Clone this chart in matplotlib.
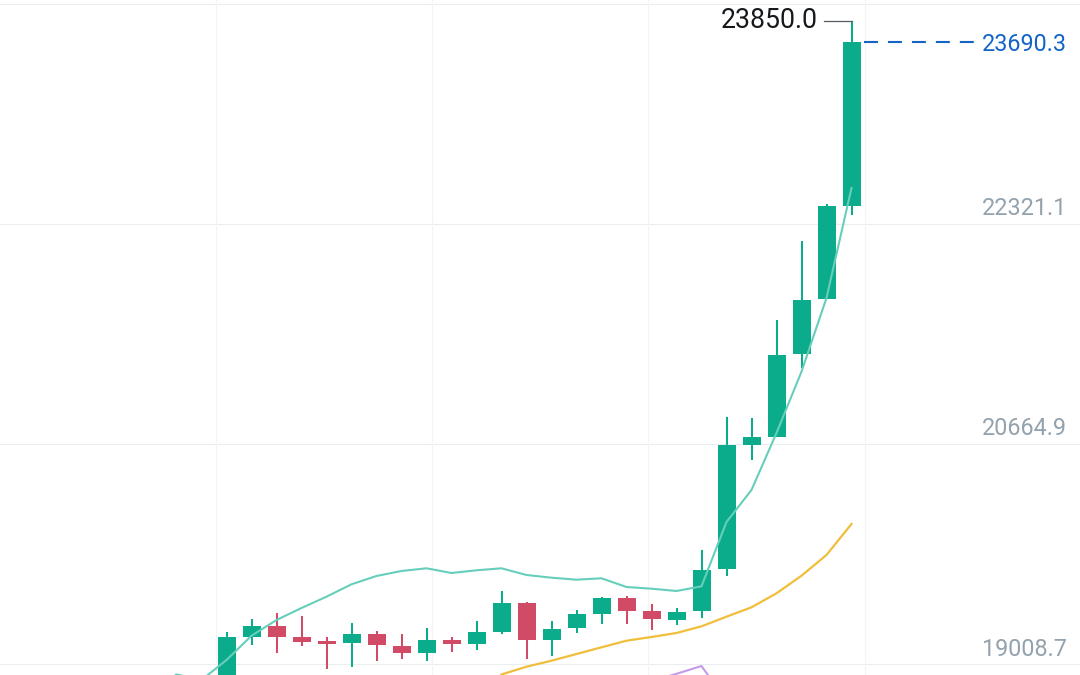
import matplotlib
matplotlib.use("Agg")
import matplotlib.pyplot as plt
from matplotlib.transforms import blended_transform_factory, offset_copy

# candles, one list per field (bar index 0..25)
opens = [18750.0, 19212.0, 19294.8, 19209.7, 19181.8, 19166.8, 19236.8, 19144.2, 19093.8, 19187.1,
         19159.3, 19247.3, 19465.7, 19187.1, 19277.5, 19387.4, 19507.8, 19407.7, 19339.9, 19405.4,
         19723.9, 20659.6, 20719.9, 21340.2, 21756.5, 22458.9]
closes = [19209.7, 19294.8, 19212.0, 19176.6, 19159.3, 19236.8, 19149.5, 19091.5, 19187.1, 19159.3,
          19247.3, 19465.7, 19187.1, 19274.4, 19385.1, 19507.8, 19410.0, 19345.2, 19402.4, 19718.6,
          20657.4, 20717.6, 21334.9, 21751.2, 22456.6, 23690.3]
highs = [19251.9, 19349.7, 19394.9, 19370.1, 19209.7, 19319.6, 19259.4, 19234.5, 19277.5, 19209.7,
         19330.2, 19558.3, 19475.4, 19332.4, 19417.5, 19515.3, 19518.4, 19458.1, 19430.3, 19864.7,
         20870.4, 20860.6, 21596.1, 22193.1, 22471.7, 23850.0]
lows = [18700.0, 19154.0, 19091.5, 19144.2, 18973.3, 18983.9, 19029.0, 19048.6, 19029.0, 19096.8,
        19116.4, 19232.3, 19048.6, 19068.9, 19244.3, 19312.1, 19312.1, 19264.7, 19304.6, 19352.7,
        19671.2, 20546.7, 20719.9, 21237.0, 21756.5, 22388.9]

# moving averages
ma_fast_x = list(range(-3, 26))
ma_fast = [18800.0, 18930.0, 18888.0, 19038.8, 19221.7, 19339.9, 19430.3, 19515.3, 19608.7, 19671.2,
           19708.8, 19729.1, 19693.7, 19714.1, 19729.1, 19678.7, 19658.4, 19643.3, 19653.9, 19588.4,
           19575.6, 19558.3, 19593.6, 20077.7, 20318.6, 20747.7, 21209.2, 21764.0, 22592.1]
ma_mid_x = list(range(11, 26))
ma_mid = [18929.7, 18988.4, 19033.5, 19084.0, 19134.4, 19184.1, 19212.0, 19242.1, 19292.5, 19364.8,
          19435.6, 19540.9, 19673.4, 19829.3, 20062.7]
ma_slow_x = [17, 18, 19, 20]
ma_slow = [18880.7, 18934.9, 18993.7, 18730.0]

price_ticks = [22321.1, 20664.9, 19008.7]
top_grid = 23977.3
time_grid = [-0.42, 8.22, 16.86, 25.54]
high_price = 23850.0
last_price = 23690.3

GREEN = "#0BAC8B"
RED = "#D14B66"

plt.rcParams["font.family"] = ["Roboto", "DejaVu Sans"]

fig = plt.figure(figsize=(10.8, 6.75), dpi=100)
ax = fig.add_axes([0, 0, 1, 1])
ax.set_xlim(-9.06, 34.14)
ax.set_ylim(18925.9, 24007.0)
ax.axis("off")

# grid
for p in price_ticks + [top_grid]:
    ax.axhline(p, color="#ECEDEF", lw=0.8, zorder=1)
for t in time_grid:
    ax.axvline(t, color="#F3F4F6", lw=0.8, zorder=1)

# candles
for i in range(len(opens)):
    col = GREEN if closes[i] >= opens[i] else RED
    ax.vlines(i, lows[i], highs[i], color=col, lw=1.45, zorder=2)
    ax.bar(i, abs(closes[i] - opens[i]), bottom=min(opens[i], closes[i]), width=0.72,
           color=col, linewidth=0, zorder=3)

# moving averages
ax.plot(ma_fast_x, ma_fast, color="#66CEBB", lw=1.5, zorder=4)
ax.plot(ma_mid_x, ma_mid, color="#F0BE3A", lw=1.6, zorder=4)
ax.plot(ma_slow_x, ma_slow, color="#C49BEA", lw=1.5, zorder=4)

# price labels on the right, they sit just above their grid line
trans = blended_transform_factory(ax.transAxes, ax.transData)
label_x = 1067 / 1080
above = offset_copy(trans, fig=fig, y=10.8, units="points")
for p in price_ticks:
    ax.text(label_x, p, f"{p:.1f}", transform=above, ha="right", va="center",
            fontsize=16.8, color="#93A2AD", zorder=5)

# last price marker
ax.plot([25.5, 29.95], [last_price, last_price], color="#1464C8", lw=1.5,
        dashes=(6.7, 4.8), zorder=4)
nudge = offset_copy(trans, fig=fig, y=-1.8, units="points")
ax.text(label_x, last_price, f"{last_price:.1f}", transform=nudge, ha="right", va="center",
        fontsize=16.8, color="#1464C8", zorder=5)

# high marker
ax.plot([23.9, 25], [high_price, high_price], color="#555B60", lw=0.9, zorder=5)
ax.text(23.64, high_price, f"{high_price:.1f}", ha="right", va="center",
        fontsize=19.2, color="#16191C", zorder=5)

fig.savefig("out.png", dpi=100, facecolor="white")
